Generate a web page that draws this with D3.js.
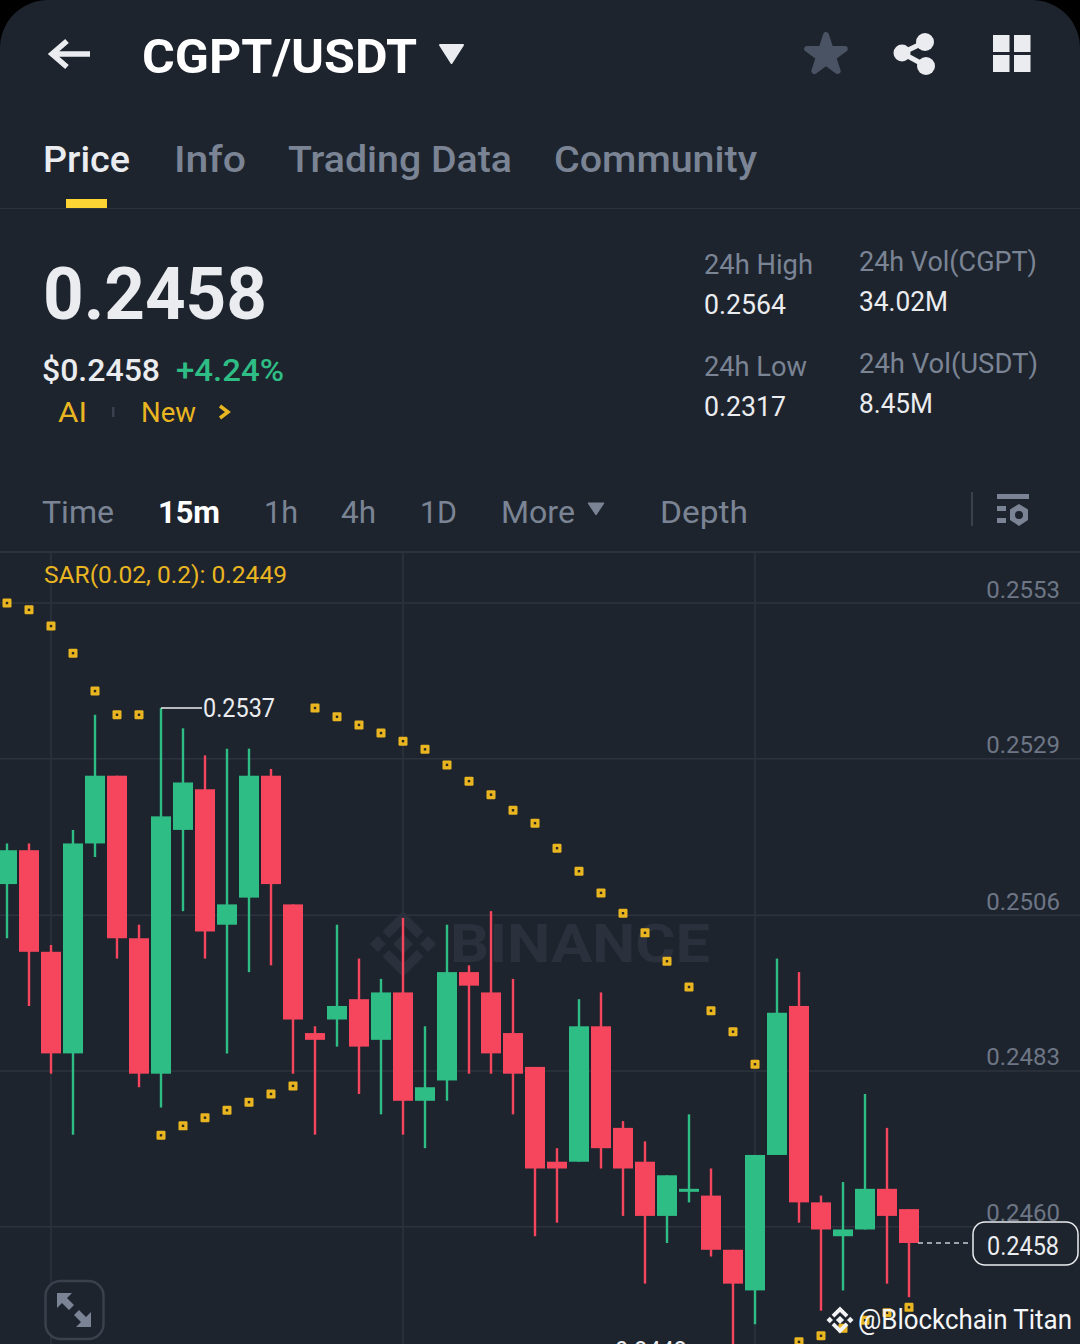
<!DOCTYPE html>
<html>
<head>
<meta charset="utf-8">
<title>CGPT/USDT</title>
<script src="https://cdn.jsdelivr.net/npm/d3@7/dist/d3.min.js"></script>
<style>
  html, body { margin: 0; padding: 0; background: #000; }
  svg { display: block; }
  text { font-family: Roboto, "Noto Sans", sans-serif; }
</style>
</head>
<body>
<svg id="chart" width="1080" height="1344"></svg>
<script>
// 15m candles, prices
const opens = [0.2511, 0.2516, 0.2501, 0.2486, 0.2517, 0.2527, 0.2503, 0.2483, 0.2519, 0.2525, 0.2505,
  0.2509, 0.2527, 0.2508, 0.2489, 0.2491, 0.2494, 0.2488, 0.2495, 0.2479, 0.2482, 0.2498,
  0.2495, 0.2489, 0.2484, 0.2470, 0.2470, 0.2490, 0.2475, 0.2470, 0.2462, 0.2466, 0.2465,
  0.2457, 0.2451, 0.2471, 0.2493, 0.2464, 0.2459, 0.2460, 0.2466, 0.2463];
const closes = [0.2516, 0.2501, 0.2486, 0.2517, 0.2527, 0.2503, 0.2483, 0.2521, 0.2526, 0.2504, 0.2508,
  0.2527, 0.2511, 0.2491, 0.2488, 0.2493, 0.2487, 0.2495, 0.2479, 0.2481, 0.2498, 0.2496,
  0.2486, 0.2483, 0.2469, 0.2469, 0.2490, 0.2472, 0.2469, 0.2462, 0.2468, 0.2466, 0.2457,
  0.2452, 0.2471, 0.2492, 0.2464, 0.2460, 0.2460, 0.2466, 0.2462, 0.2458];
const highs = [0.2517, 0.2517, 0.2502, 0.2519, 0.2536, 0.2527, 0.2505, 0.2537, 0.2534, 0.2530, 0.2531,
  0.2531, 0.2528, 0.2508, 0.2490, 0.2505, 0.2500, 0.2497, 0.2506, 0.2490, 0.2505, 0.2499,
  0.2507, 0.2497, 0.2484, 0.2472, 0.2494, 0.2495, 0.2476, 0.2473, 0.2468, 0.2477, 0.2469,
  0.2457, 0.2471, 0.2500, 0.2498, 0.2465, 0.2467, 0.2480, 0.2475, 0.2463];
const lows = [0.2503, 0.2493, 0.2483, 0.2474, 0.2515, 0.2500, 0.2481, 0.2478, 0.2507, 0.2500, 0.2486,
  0.2498, 0.2499, 0.2483, 0.2474, 0.2487, 0.2480, 0.2477, 0.2474, 0.2472, 0.2479, 0.2483,
  0.2483, 0.2477, 0.2459, 0.2461, 0.2470, 0.2469, 0.2462, 0.2452, 0.2458, 0.2464, 0.2456,
  0.2442, 0.2446, 0.2471, 0.2461, 0.2448, 0.2451, 0.2460, 0.2452, 0.2450];

// parabolic SAR, one value per candle (null where it is off screen)
const sarValues = [0.25525, 0.25515, 0.25491, 0.25451, 0.25395, 0.25360, 0.25360,
  0.24739, 0.24753, 0.24765, 0.24776, 0.24788, 0.24800, 0.24812,
  0.25370, 0.25357, 0.25345, 0.25333, 0.25321, 0.25309, 0.25286, 0.25262, 0.25242, 0.25219,
  0.25200, 0.25163, 0.25129, 0.25097, 0.25067, 0.25038, 0.24996, 0.24958, 0.24923, 0.24892, 0.24844,
  null, 0.24434, 0.24443, 0.24454, 0.24466, 0.24477, 0.24485];

// price axis
const gridPrices = [0.25525, 0.25295, 0.25064, 0.24834, 0.24604];
const gridLabels = ["0.2553", "0.2529", "0.2506", "0.2483", "0.2460"];
const timeGridCandles = [2, 18, 34];
const lastPrice = 0.2458;
const highLabelCandle = 7;
const lowLabelCandle = 33;

// header text
const tabs = ["Price", "Info", "Trading Data", "Community"];
const intervals = ["Time", "15m", "1h", "4h", "1D", "More", "Depth"];

const BG = "#1e242e";
const GREEN = "#2ebd85";
const RED = "#f6465d";
const YELLOW = "#e9b520";
const TEXT = "#eaecef";
const GREY = "#7a8494";
const GRID = "#2d333e";

const svg = d3.select("#chart");

// panel with rounded top corners
svg.append("rect").attr("x", 0).attr("y", 0).attr("width", 1080).attr("height", 1444)
  .attr("rx", 48).attr("fill", BG);

// text helper, w squeezes the run to the measured width of the original
function label(parent, str, x, y, size, fill, weight, w) {
  const t = parent.append("text").attr("x", x).attr("y", y)
    .attr("font-size", size).attr("fill", fill).attr("font-weight", weight || 400).text(str);
  if (w) t.attr("textLength", w).attr("lengthAdjust", "spacingAndGlyphs");
  return t;
}

// Binance logo mark
function logo(parent, cx, cy, scale, fill) {
  const g = parent.append("g").attr("transform", `translate(${cx},${cy}) scale(${scale})`).attr("fill", fill);
  const d = [
    "M0,-15L15,0L0,15L-15,0Z",
    "M-38,-12L-26,0L-38,12L-50,0Z",
    "M38,-12L50,0L38,12L26,0Z",
    "M0,-50L31,-19L21,-9L0,-30L-21,-9L-31,-19Z",
    "M0,50L31,19L21,9L0,30L-21,9L-31,19Z"
  ];
  d.forEach(p => g.append("path").attr("d", p));
}

/* ---------- header ---------- */
const header = svg.append("g");

header.append("path").attr("d", "M90,54H53M67,41L52,54L67,67")
  .attr("fill", "none").attr("stroke", TEXT).attr("stroke-width", 5.5);
label(header, "CGPT/USDT", 142, 73, 49, "#fff", 700, 275);
header.append("path").attr("d", "M440,45H463L451.5,63Z")
  .attr("fill", TEXT).attr("stroke", TEXT).attr("stroke-width", 2).attr("stroke-linejoin", "round");

header.append("path").attr("transform", "translate(826,55)")
  .attr("d", d3.symbol(d3.symbolStar, 440)())
  .attr("fill", "#4a5363").attr("stroke", "#4a5363").attr("stroke-width", 6).attr("stroke-linejoin", "round");

const share = header.append("g").attr("fill", TEXT).attr("stroke", TEXT);
share.append("path").attr("d", "M925,42L902,53L926,66").attr("fill", "none").attr("stroke-width", 5);
[[925, 42, 9], [902, 53, 8.5], [926, 66, 9]].forEach(c =>
  share.append("circle").attr("cx", c[0]).attr("cy", c[1]).attr("r", c[2]).attr("stroke", "none"));

[[993, 35], [1014, 35], [993, 55], [1014, 55]].forEach(c =>
  header.append("rect").attr("x", c[0]).attr("y", c[1]).attr("width", 16.5).attr("height", 17).attr("fill", TEXT));

// tabs
const tabX = [43, 174, 288, 554];
const tabW = [87, 72, 224, 203];
tabs.forEach((t, i) => label(header, t, tabX[i], 172, 37, i === 0 ? TEXT : GREY, 500, tabW[i]));
header.append("rect").attr("x", 66).attr("y", 199).attr("width", 41).attr("height", 9).attr("fill", "#fcd535");
header.append("line").attr("x1", 0).attr("x2", 1080).attr("y1", 208.5).attr("y2", 208.5).attr("stroke", GRID).attr("stroke-width", 1);

/* ---------- price block ---------- */
const stats = svg.append("g");
label(stats, "0.2458", 43, 319, 72, TEXT, 700, 224);
label(stats, "$0.2458", 42, 381, 32, TEXT, 500, 118);
label(stats, "+4.24%", 176, 381, 32, GREEN, 500, 108);
label(stats, "AI", 58, 422, 28, YELLOW, 400, 29);
stats.append("rect").attr("x", 112).attr("y", 407).attr("width", 2.5).attr("height", 10).attr("fill", "#3a404c");
label(stats, "New", 141, 422, 28, YELLOW, 400, 55);
stats.append("path").attr("d", "M220,406L228,412L220,418").attr("fill", "none").attr("stroke", YELLOW).attr("stroke-width", 3.5);

label(stats, "24h High", 704, 274, 28, GREY, 400, 109);
label(stats, "0.2564", 704, 314, 28, TEXT, 400, 82);
label(stats, "24h Low", 704, 376, 28, GREY, 400, 103);
label(stats, "0.2317", 704, 416, 28, TEXT, 400, 82);
label(stats, "24h Vol(CGPT)", 859, 271, 28, GREY, 400, 178);
label(stats, "34.02M", 859, 311, 28, TEXT, 400, 89);
label(stats, "24h Vol(USDT)", 859, 373, 28, GREY, 400, 179);
label(stats, "8.45M", 859, 413, 28, TEXT, 400, 74);

/* ---------- interval bar ---------- */
const bar = svg.append("g");
const intervalX = [42, 158, 264, 341, 420, 501, 660];
const intervalW = [72, 62, 34, 35, 37, 74, 88];
intervals.forEach((t, i) => label(bar, t, intervalX[i], 523, 32, i === 1 ? "#fff" : GREY, i === 1 ? 700 : 400, intervalW[i]));
bar.append("path").attr("d", "M588,503H604L596,515Z").attr("fill", GREY).attr("stroke", GREY).attr("stroke-linejoin", "round");
bar.append("line").attr("x1", 972).attr("x2", 972).attr("y1", 492).attr("y2", 526).attr("stroke", "#3a404c").attr("stroke-width", 2);
const tool = bar.append("g").attr("fill", GREY);
tool.append("rect").attr("x", 997).attr("y", 494).attr("width", 32).attr("height", 5);
tool.append("rect").attr("x", 997).attr("y", 506).attr("width", 9).attr("height", 5);
tool.append("rect").attr("x", 997).attr("y", 518).attr("width", 9).attr("height", 5);
tool.append("path").attr("d", "M1019,504L1028,509.5V520L1019,526L1010,520V509.5Z");
tool.append("circle").attr("cx", 1019).attr("cy", 515).attr("r", 4).attr("fill", BG);

svg.append("line").attr("x1", 0).attr("x2", 1080).attr("y1", 552).attr("y2", 552).attr("stroke", GRID).attr("stroke-width", 2);

/* ---------- chart ---------- */
const x = d3.scaleLinear().domain([0, opens.length - 1]).range([7, 909]);
const y = d3.scaleLinear().domain([0.2537, lastPrice]).range([708, 1243]);
const chart = svg.append("g");

// grid
chart.append("g").selectAll("line").data(gridPrices).join("line")
  .attr("x1", 0).attr("x2", 1080).attr("y1", d => y(d)).attr("y2", d => y(d))
  .attr("stroke", GRID).attr("stroke-width", 1.5);
chart.append("g").selectAll("line").data(timeGridCandles).join("line")
  .attr("x1", d => x(d)).attr("x2", d => x(d)).attr("y1", 553).attr("y2", 1344)
  .attr("stroke", GRID).attr("stroke-width", 1.5);

label(chart, "SAR(0.02, 0.2): 0.2449", 44, 583, 24, YELLOW, 400, 243);

// watermark
logo(chart, 403, 944, 0.66, "#2b313c");
label(chart, "BINANCE", 450, 962, 53, "#2b313c", 700, 260);

// price labels
const axis = d3.axisLeft(y).tickValues(gridPrices).tickSize(0).tickPadding(0)
  .tickFormat((d, i) => gridLabels[i]);
chart.append("g").attr("transform", "translate(1060,0)").call(axis)
  .call(g => g.select(".domain").remove())
  .call(g => g.selectAll("text")
    .attr("dy", -6).attr("font-size", 24).attr("fill", "#6d7685")
    .style("font-family", "Roboto"));

// SAR dots
const sarData = sarValues.map((v, i) => ({ i, v })).filter(d => d.v !== null);
const sar = chart.append("g").selectAll("g").data(sarData).join("g")
  .attr("transform", d => `translate(${x(d.i)},${y(d.v)})`);
sar.append("rect").attr("x", -4.5).attr("y", -4.5).attr("width", 9).attr("height", 9).attr("rx", 1.2).attr("fill", YELLOW);
sar.append("rect").attr("x", -1.2).attr("y", -1.2).attr("width", 2.4).attr("height", 2.4).attr("fill", "#2a2620");

// candles
const candles = chart.append("g").selectAll("g").data(d3.range(opens.length)).join("g")
  .attr("fill", i => closes[i] >= opens[i] ? GREEN : RED)
  .attr("stroke", i => closes[i] >= opens[i] ? GREEN : RED);
candles.append("line")
  .attr("x1", i => x(i)).attr("x2", i => x(i))
  .attr("y1", i => y(highs[i])).attr("y2", i => y(lows[i]))
  .attr("stroke-width", 2.4);
candles.append("rect")
  .attr("x", i => x(i) - 10).attr("width", 20)
  .attr("y", i => y(Math.max(opens[i], closes[i])))
  .attr("height", i => Math.max(3, Math.abs(y(opens[i]) - y(closes[i]))))
  .attr("stroke", "none");

// high and low markers
chart.append("line")
  .attr("x1", x(highLabelCandle)).attr("x2", x(highLabelCandle) + 41)
  .attr("y1", y(highs[highLabelCandle])).attr("y2", y(highs[highLabelCandle]))
  .attr("stroke", TEXT).attr("stroke-width", 1.5);
label(chart, d3.format(".4f")(highs[highLabelCandle]), x(highLabelCandle) + 42, y(highs[highLabelCandle]) + 9, 25, TEXT, 400, 72);
chart.append("line")
  .attr("x1", x(lowLabelCandle) - 41).attr("x2", x(lowLabelCandle))
  .attr("y1", y(lows[lowLabelCandle])).attr("y2", y(lows[lowLabelCandle]))
  .attr("stroke", TEXT).attr("stroke-width", 1.5);
label(chart, d3.format(".4f")(lows[lowLabelCandle]), x(lowLabelCandle) - 118, y(lows[lowLabelCandle]) + 9, 25, TEXT, 400, 72);

// last price
chart.append("line")
  .attr("x1", 918).attr("x2", 968).attr("y1", y(lastPrice)).attr("y2", y(lastPrice))
  .attr("stroke", "#c9ccd1").attr("stroke-width", 1.5).attr("stroke-dasharray", "5 4");
chart.append("rect").attr("x", 973).attr("y", 1222).attr("width", 105).attr("height", 43).attr("rx", 12)
  .attr("fill", BG).attr("stroke", TEXT).attr("stroke-width", 1.5);
label(chart, d3.format(".4f")(lastPrice), 987, 1255, 25, TEXT, 400, 72);

// expand button
const expand = svg.append("g");
expand.append("rect").attr("x", 45.5).attr("y", 1281).attr("width", 58).attr("height", 58).attr("rx", 15)
  .attr("fill", BG).attr("stroke", "#3a404c").attr("stroke-width", 2.5);
expand.append("path").attr("d", "M57,1293H72L67,1298L74,1305L69,1310L62,1303L57,1308Z").attr("fill", GREY);
expand.append("path").attr("d", "M91,1327H76L81,1322L74,1315L79,1310L86,1317L91,1312Z").attr("fill", GREY);

// photographer's tag
logo(svg, 840, 1320, 0.27, "#f2f3f5");
label(svg, "@Blockchain Titan", 858, 1329, 27, "#f5f6f7", 400, 214);
</script>
</body>
</html>
